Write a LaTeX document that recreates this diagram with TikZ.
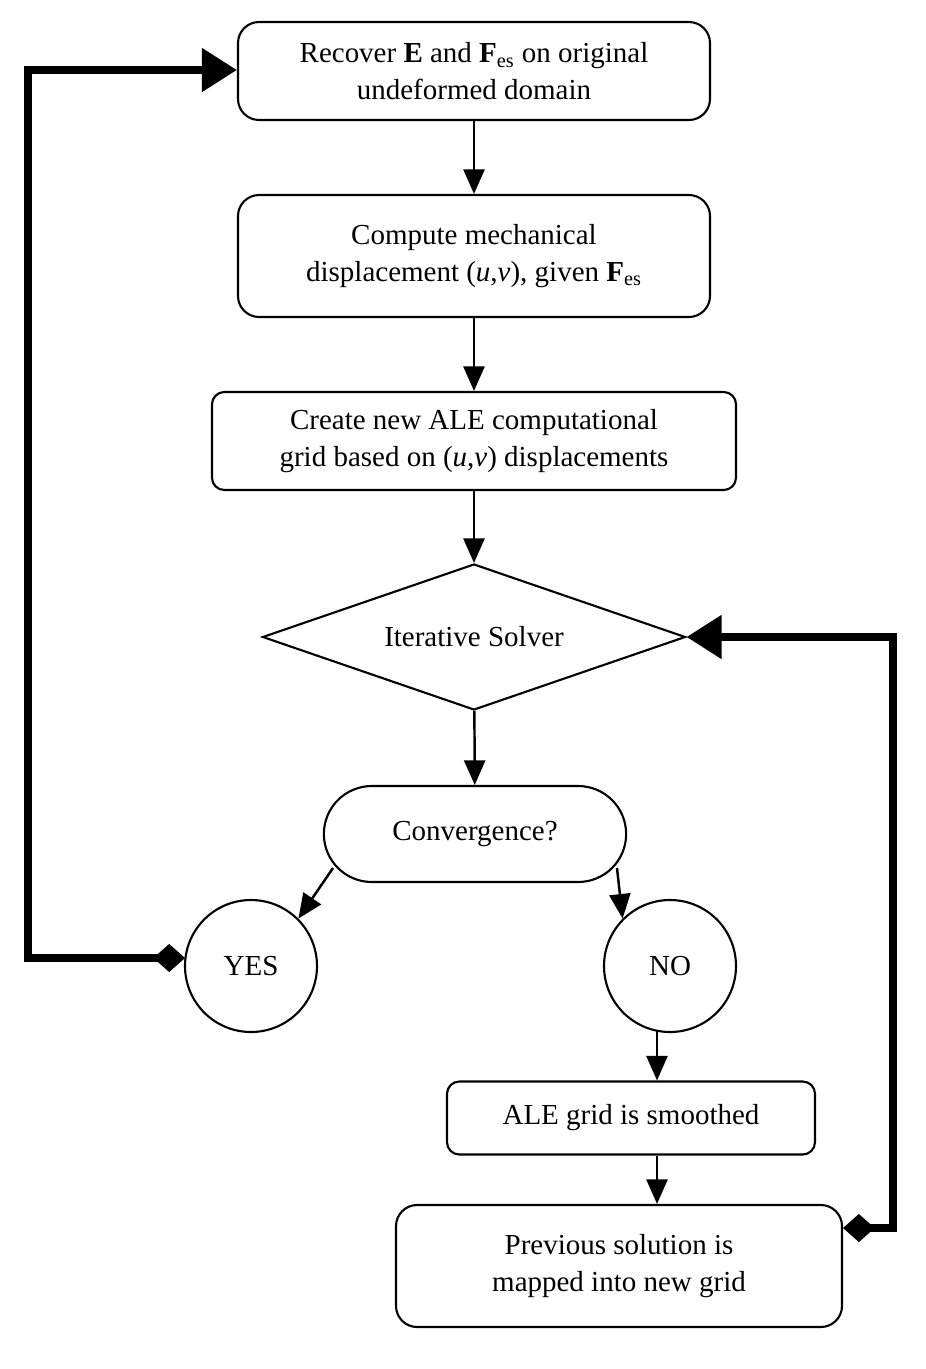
\documentclass[tikz,border=0pt]{standalone}
\usepackage{fontspec}
\setmainfont{Liberation Serif}
\usetikzlibrary{shapes.geometric,shapes.misc,arrows.meta}
\begin{document}
\begin{tikzpicture}[x=0.02cm,y=-0.02cm,
  every node/.style={font=\fontsize{16.5}{21}\selectfont, align=center},
  box/.style={draw, line width=1.2pt, rounded corners=12pt, inner sep=0pt},
  arr/.style={line width=1.4pt, -{Triangle[length=14pt,width=12pt]}},
  loop/.style={line width=4.5pt, {Diamond[length=18pt,width=16pt]}-{Triangle[length=20pt,width=24pt]}}]
\useasboundingbox (0,0) rectangle (926,1369);
\node[box, minimum width=472*0.02cm, minimum height=98*0.02cm] (b1) at (474,71)
  {Recover \textbf{E} and \textbf{F}\textsubscript{es} on original\\undeformed domain};
\node[box, minimum width=472*0.02cm, minimum height=122*0.02cm] (b2) at (474,256)
  {Compute mechanical\\displacement (\textit{u},\textit{v}), given \textbf{F}\textsubscript{es}};
\node[box, rounded corners=7pt, minimum width=524*0.02cm, minimum height=98*0.02cm] (b3) at (474,441)
  {Create new ALE computational\\grid based on (\textit{u},\textit{v}) displacements};
\node[draw, line width=1.2pt, diamond, aspect=2.9, minimum width=423*0.02cm, minimum height=146*0.02cm, inner sep=0pt] (d) at (474,637) {Iterative Solver};
\node[draw, line width=1.2pt, rounded rectangle, minimum width=314*0.02cm, minimum height=96*0.02cm] (c) at (475,834) {Convergence?};
\node[draw, line width=1.2pt, circle, minimum size=132*0.02cm, inner sep=0pt] (y) at (251,966) {YES};
\node[draw, line width=1.2pt, circle, minimum size=132*0.02cm, inner sep=0pt] (n) at (670,966) {NO};
\node[box, rounded corners=7pt, minimum width=368*0.02cm, minimum height=73*0.02cm] (s) at (631,1118) {ALE grid is smoothed};
\node[box, minimum width=446*0.02cm, minimum height=122*0.02cm] (p) at (619,1266)
  {Previous solution is\\mapped into new grid};
\draw[arr] (b1) -- (b2);
\draw[arr] (b2) -- (b3);
\draw[arr] (b3) -- (d);
\draw[arr] (d) -- (c);
\coordinate (cy) at (333,868);
\coordinate (cn) at (617,868);
\draw[arr] (cy) -- (y.north east);
\draw[arr] (cn) -- (n.north west);
\coordinate (nb) at (657,1031);
\draw[arr] (nb) -- (s.north -| nb);
\draw[arr] (s.south -| nb) -- (p.north -| nb);
\coordinate (l0) at (185,958);
\coordinate (l1) at (28,958);
\coordinate (l2) at (28,70);
\draw[loop] (l0) -- (l1) -- (l2) -- (b1.west |- l2);
\coordinate (r1) at (893,1228);
\coordinate (r2) at (893,637);
\draw[loop] (p.east |- r1) -- (r1) -- (r2) -- (d.east);
\end{tikzpicture}
\end{document}
